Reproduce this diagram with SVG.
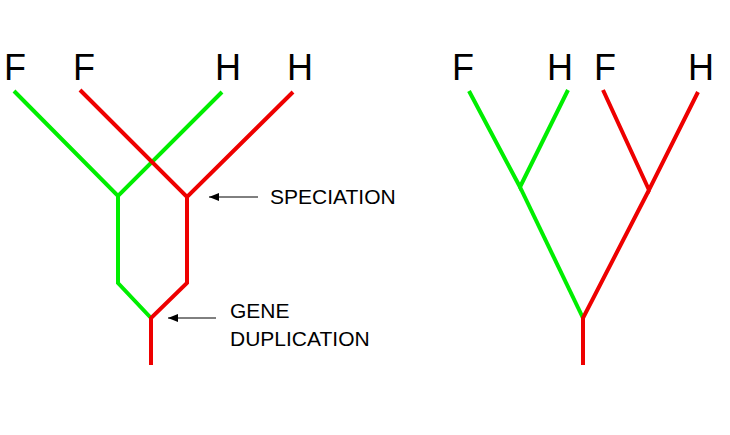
<svg xmlns="http://www.w3.org/2000/svg" width="730" height="435" viewBox="0 0 730 435">
<defs>
<marker id="ah" markerWidth="10" markerHeight="8" refX="10" refY="4" orient="auto" markerUnits="userSpaceOnUse"><path d="M0,0 L10,4 L0,8 z" fill="#000"/></marker>
<style>
.g{stroke:#00ee00;stroke-width:4;fill:none}
.r{stroke:#ee0000;stroke-width:4;fill:none}
.t{font-family:"Liberation Sans",Arial,sans-serif;font-size:36px;fill:#000}
.s{font-family:"Liberation Sans",Arial,sans-serif;font-size:21px;fill:#000}
.a{stroke:#000;stroke-width:1;marker-end:url(#ah)}
</style>
</defs>
<rect width="730" height="435" fill="#fff"/>
<g id="leftTree">
<polyline class="g" points="14,91 118,196 222,92"/>
<polyline class="g" points="118,196 118,283 151,318"/>
<polyline class="r" points="80,90 187,197 293,92"/>
<polyline class="r" points="187,197 187,283 151,318 151,365"/>
</g>
<g id="rightTree">
<polyline class="g" points="469,91 520,187 568,90"/>
<polyline class="g" points="520,187 583,318"/>
<polyline class="r" points="603,90 649,190 698,92"/>
<polyline class="r" points="649,190 583,318 583,365"/>
</g>
<g id="labels">
<text class="t" x="4" y="80">F</text>
<text class="t" x="73" y="80">F</text>
<text class="t" x="215" y="80">H</text>
<text class="t" x="287" y="80">H</text>
<text class="t" x="452" y="80">F</text>
<text class="t" x="547" y="80">H</text>
<text class="t" x="594" y="80">F</text>
<text class="t" x="688" y="80">H</text>
</g>
<g id="connectors">
<line class="a" x1="258" y1="197" x2="209" y2="197"/>
<line class="a" x1="216" y1="318" x2="168" y2="318"/>
</g>
<g id="annotations">
<text class="s" x="270" y="204">SPECIATION</text>
<text class="s" x="230" y="318">GENE</text>
<text class="s" x="230" y="346">DUPLICATION</text>
</g>
</svg>
